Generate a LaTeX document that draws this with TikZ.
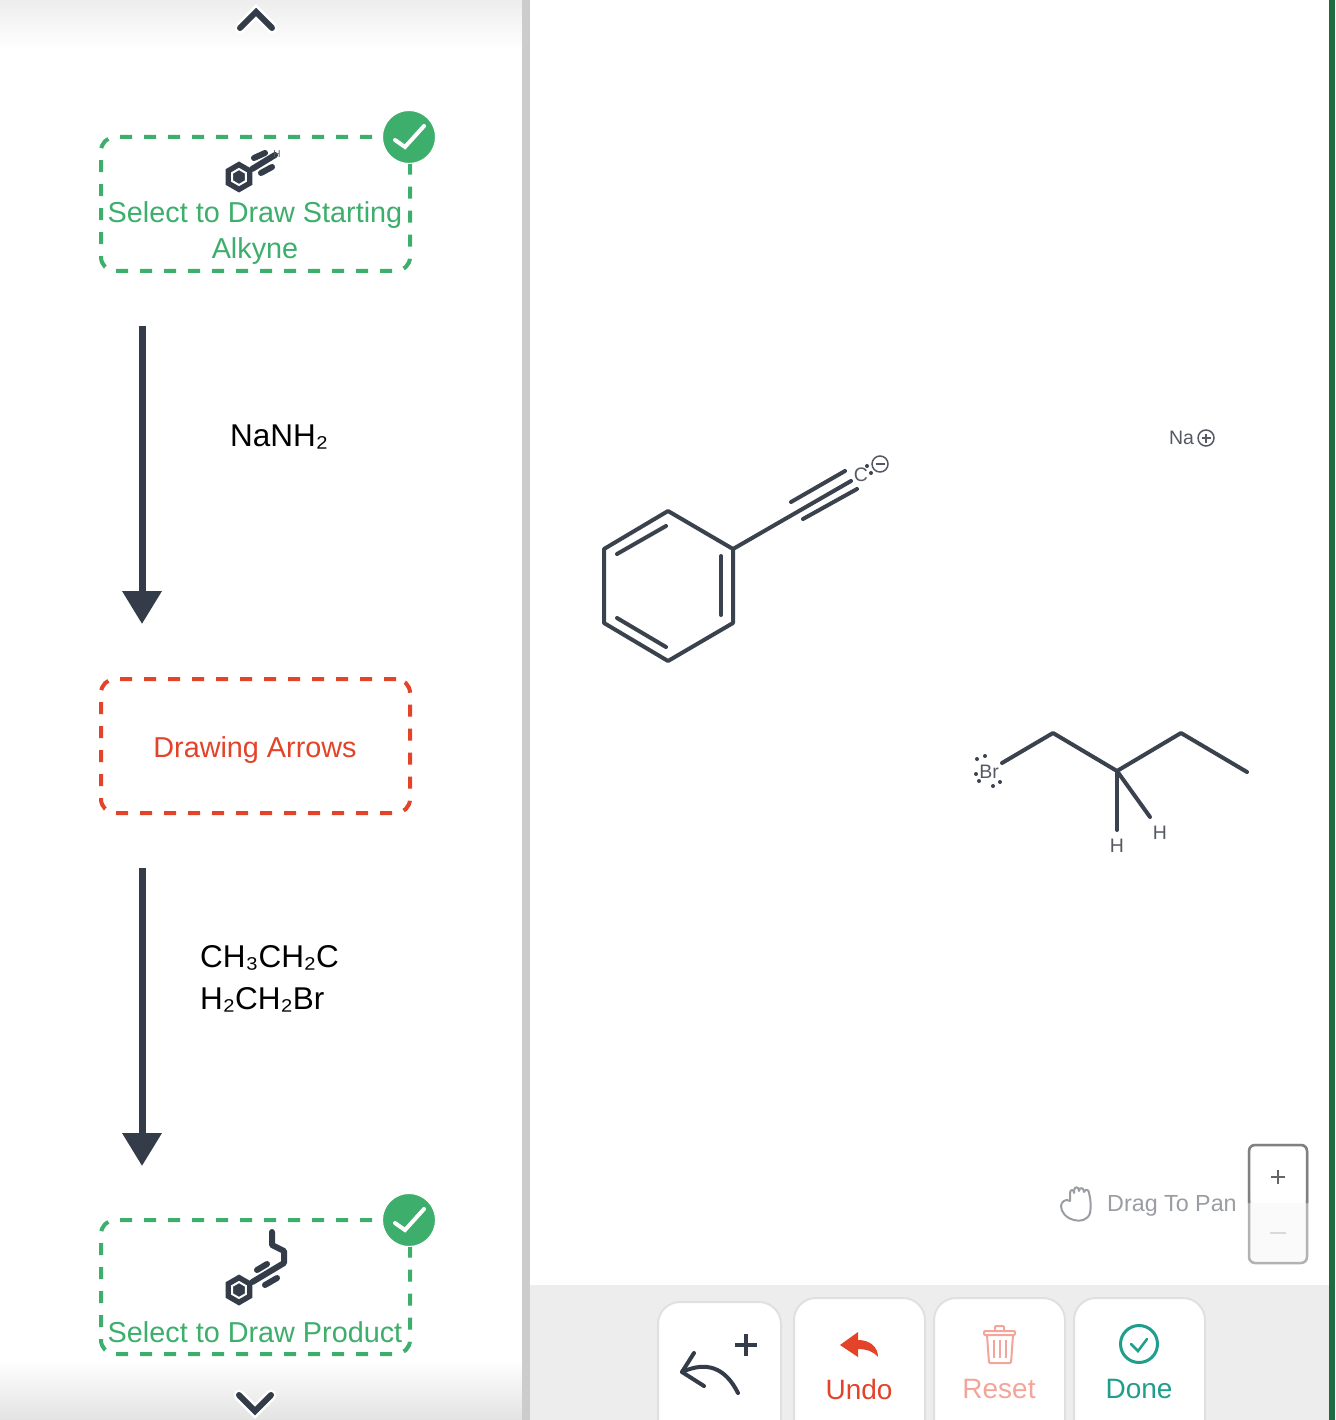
\documentclass[tikz,border=0pt]{standalone}
\usepackage{fontspec}
\setmainfont{Liberation Sans}
\usetikzlibrary{positioning,shapes,arrows.meta}
\definecolor{okgreen}{RGB}{61,174,107}
\definecolor{errred}{RGB}{227,67,40}
\definecolor{inkdark}{RGB}{51,60,72}
\definecolor{bondgray}{RGB}{58,66,78}
\definecolor{atomgray}{RGB}{85,90,98}
\definecolor{softgray}{RGB}{154,158,163}
\definecolor{resetpink}{RGB}{244,165,154}
\definecolor{doneteal}{RGB}{31,158,140}
\definecolor{edgegreen}{RGB}{31,107,66}
\tikzset{
  stepbox/.style={rectangle,rounded corners=14pt,draw=#1,line width=4pt,dash pattern=on 12pt off 12pt,minimum width=309pt,minimum height=134pt},
  steptext/.style={text=#1,font=\fontsize{28.8}{36}\selectfont,align=center,inner sep=0pt},
  reagent/.style={font=\fontsize{31.5}{42}\selectfont,align=left,inner sep=0pt},
  flow/.style={line width=7pt,draw=inkdark,-{Triangle[width=38pt,length=33pt]}},
  bond/.style={line width=4pt,draw=bondgray,line cap=round},
  atom/.style={text=atomgray,font=\fontsize{19.5}{24}\selectfont,inner sep=0pt},
  lonepair/.style={circle,fill=bondgray,inner sep=0pt,minimum size=4pt},
  charge/.style={circle,draw=atomgray,line width=1.5pt,inner sep=0pt,minimum size=16pt},
  checkdot/.style={circle,fill=okgreen,draw=white,line width=1pt,inner sep=0pt,minimum size=53pt},
  tick/.style={line width=4pt,draw=white,line cap=round},
  hexicon/.style={regular polygon,regular polygon sides=6,shape border rotate=30,fill=inkdark,inner sep=0pt,minimum size=31pt},
  hexinner/.style={regular polygon,regular polygon sides=6,shape border rotate=30,draw=white,line width=2pt,inner sep=0pt,minimum size=16pt},
  iconbond/.style={line width=6pt,draw=inkdark,line cap=round,line join=round},
  chevron/.style={line width=6pt,draw=inkdark,line cap=round,line join=miter},
  chevronhalo/.style={line width=11pt,draw=white,line cap=round,line join=miter},
  toolbtn/.style={rectangle,rounded corners=22pt,fill=white,draw=black!12,line width=2pt,minimum height=170pt},
  toollabel/.style={text=#1,font=\fontsize{28}{34}\selectfont,inner sep=0pt}
}
\begin{document}
\begin{tikzpicture}[x=1pt,y=-1pt]
\useasboundingbox (0,0) rectangle (1335,1420);
\clip (0,0) rectangle (1335,1420);
% panels
\fill [white] (0,0) rectangle (1335,1420);
\shade [top color=black!7,bottom color=white] (0,0) rectangle (522,50);
\shade [top color=white,bottom color=black!11] (0,1360) rectangle (522,1420);
\fill [black!20] (522,0) rectangle (530,1420);
\fill [black!7] (530,1285) rectangle (1329,1420);
\fill [edgegreen] (1329,0) rectangle (1335,1420);
\draw [chevronhalo] (240,28) -- (256,12) -- (272,28);
\draw [chevronhalo] (239,1395) -- (255,1411) -- (271,1395);
\draw [chevron] (240,28) -- (256,12) -- (272,28);
\draw [chevron] (239,1395) -- (255,1411) -- (271,1395);
% steps
\node at (255.5,204) [stepbox=okgreen] (start) {};
\node at (255.5,746) [stepbox=errred] (arrows) {};
\node at (255.5,1287) [stepbox=okgreen] (product) {};
\node at (255,233.5) [steptext=okgreen] (starttxt) {Select to Draw Starting\\Alkyne};
\node at (255,750.5) [steptext=errred] (arrowstxt) {Drawing Arrows};
\node at (255,1332) [steptext=okgreen] (producttxt) {Select to Draw Product};
\node at (409,137) [checkdot] (startok) {};
\node at (409,1220) [checkdot] (productok) {};
\draw [tick] (395,140) -- (405,147) -- (424,126);
\draw [tick] (395,1223) -- (405,1230) -- (424,1209);
% start icon
\node at (239,177) [hexicon] (starthex) {};
\node at (239,177) [hexinner] (starthexin) {};
\coordinate (startend) at (275,155);
\draw [iconbond] (starthex) -- (startend);
\draw [iconbond] (254,158) -- (265,153);
\draw [iconbond] (261,173) -- (272,167);
\node at (277,154) [text=atomgray,font=\fontsize{10}{10}\selectfont,inner sep=0pt] (starth) {H};
% product icon
\node at (239,1290) [hexicon] (prodhex) {};
\node at (239,1290) [hexinner] (prodhexin) {};
\node at (238,1290) [circle,fill=inkdark,inner sep=0pt,minimum size=7pt] (prodblob) {};
\coordinate (prodend) at (272,1232);
\draw [iconbond] (prodhex) -- (284,1263) -- (284,1251) -- (272,1245) -- (prodend);
\draw [iconbond] (257,1270) -- (267,1264);
\draw [iconbond] (265,1285) -- (277,1278);
% reaction arrows
\coordinate (flowa) at (142,326);
\coordinate (flowb) at (142,624);
\coordinate (flowc) at (142,868);
\coordinate (flowd) at (142,1166);
\draw [flow] (flowa) -- (flowb);
\draw [flow] (flowc) -- (flowd);
\node at (230,437) [reagent,anchor=west] (base) {NaNH₂};
\node at (200,979) [reagent,anchor=west] (halide) {CH₃CH₂C\\H₂CH₂Br};
% acetylide
\foreach \n/\x/\y in {r1/668/511,r2/733/549,r3/733/623,r4/668/661,r5/604/623,r6/604/549}
  \coordinate (\n) at (\x,\y);
\draw [bond,line join=round] (r1) -- (r2) -- (r3) -- (r4) -- (r5) -- (r6) -- cycle;
\draw [bond] (721,556) -- (721,615);
\draw [bond] (617,554) -- (666,526);
\draw [bond] (617,618) -- (666,647);
\coordinate (tripend) at (851,481);
\draw [bond] (r2) -- (tripend);
\draw [bond] (791,502) -- (845,471);
\draw [bond] (803,519) -- (857,489);
\node at (861,475) [atom] (carb) {C};
\node at (867,466) [lonepair] (cdota) {};
\node at (871,473) [lonepair] (cdotb) {};
\node at (880,464) [charge] (cminus) {};
\draw [line width=2pt,draw=atomgray] (cminus.center) +(-4.5,0) -- +(4.5,0);
% sodium
\node at (1181.5,438) [atom] (na) {Na};
\node at (1206,438) [charge] (naplus) {};
\draw [line width=2pt,draw=atomgray] (naplus.center) +(-4.5,0) -- +(4.5,0) (naplus.center) +(0,-4.5) -- +(0,4.5);
% bromobutane
\node at (989,772) [atom] (br) {Br};
\foreach \x/\y in {977/759,985/756,976/774,979/781,993/786,1000/782}
  \fill [bondgray] (\x,\y) circle (2);
\coordinate (ca) at (1053,733);
\coordinate (cb) at (1117,771);
\coordinate (cc) at (1181,733);
\coordinate (cd) at (1247,772);
\coordinate (ha) at (1117,830);
\coordinate (hb) at (1150,817);
\coordinate (brend) at (1002,763);
\draw [bond,line join=round] (brend) -- (ca) -- (cb) -- (cc) -- (cd);
\draw [bond] (cb) -- (ha);
\draw [bond] (cb) -- (hb);
\node at (1117,846) [atom] (hatxt) {H};
\node at (1160,833) [atom] (hbtxt) {H};
% pan and zoom
\node at (1107,1206) [anchor=west,text=softgray,font=\fontsize{23.3}{28}\selectfont,inner sep=0pt] (pan) {Drag To Pan};
\draw [softgray,line width=2pt,line join=round,line cap=round] (1070,1201) -- (1070,1193) .. controls (1070,1189) and (1074,1189) .. (1074,1193) -- (1074,1191) .. controls (1074,1186) and (1079,1186) .. (1079,1191) -- (1079,1191) .. controls (1079,1187) and (1084,1187) .. (1084,1192) .. controls (1085,1189) and (1089,1189) .. (1089,1193) .. controls (1091,1200) and (1091,1208) .. (1090,1213) .. controls (1088,1220) and (1080,1222) .. (1074,1220) .. controls (1066,1218) and (1061,1212) .. (1061,1206) .. controls (1061,1202) and (1066,1198) .. (1070,1201);
\node at (1278,1204) [rectangle,rounded corners=6pt,fill=black!2,draw=black!30,line width=2.5pt,minimum width=58pt,minimum height=118pt] (zoombox) {};
\fill [white,rounded corners=5pt] (1250,1203) -- (1250,1146) -- (1306,1146) -- (1306,1203) -- cycle;
\draw [black!50,line width=2.5pt,rounded corners=6pt] (1249,1203) -- (1249,1145) -- (1307,1145) -- (1307,1203);
\draw [black!60,line width=2.5pt] (1278,1170) -- (1278,1184) (1271,1177) -- (1285,1177);
\draw [black!15,line width=2pt] (1270,1233) -- (1286,1233);
% tool buttons
\node at (719.5,1387) [toolbtn,minimum width=123pt] (newarrow) {};
\node at (859.5,1383) [toolbtn,minimum width=131pt] (undo) {};
\node at (999.5,1383) [toolbtn,minimum width=131pt] (reset) {};
\node at (1139.5,1383) [toolbtn,minimum width=131pt] (done) {};
\draw [inkdark,line width=4pt,line cap=round,line join=round] (694,1353) -- (682,1372) -- (704,1386);
\draw [inkdark,line width=4pt,line cap=round] (682,1372) .. controls (706,1361) and (725,1367) .. (738,1393);
\draw [inkdark,line width=3.5pt] (746,1334) -- (746,1356) (735,1345) -- (757,1345);
\fill [errred] (840,1345) -- (858,1332) -- (858,1340) .. controls (870,1340) and (878,1347) .. (878,1357) .. controls (873,1351) and (866,1349) .. (858,1349) -- (858,1357) -- cycle;
\node at (859,1389) [toollabel=errred] (undotxt) {Undo};
\draw [resetpink,line width=2pt,rounded corners=1pt] (984,1335) -- (984,1331) -- (1015,1331) -- (1015,1335) -- cycle (995,1331) -- (995,1326) -- (1004,1326) -- (1004,1331) (987,1335) -- (989,1363) -- (1011,1363) -- (1013,1335);
\foreach \x in {994,1000,1006}
  \draw [resetpink,line width=1.5pt] (\x,1340) -- (\x,1358);
\node at (999,1389) [toollabel=resetpink] (resettxt) {Reset};
\node at (1139,1344) [circle,draw=doneteal,line width=3pt,inner sep=0pt,minimum size=37pt] (donemark) {};
\draw [doneteal,line width=2.5pt,line cap=round] (1131,1344) -- (1138,1351) -- (1147,1339);
\node at (1139,1389) [toollabel=doneteal] (donetxt) {Done};
\end{tikzpicture}
\end{document}
